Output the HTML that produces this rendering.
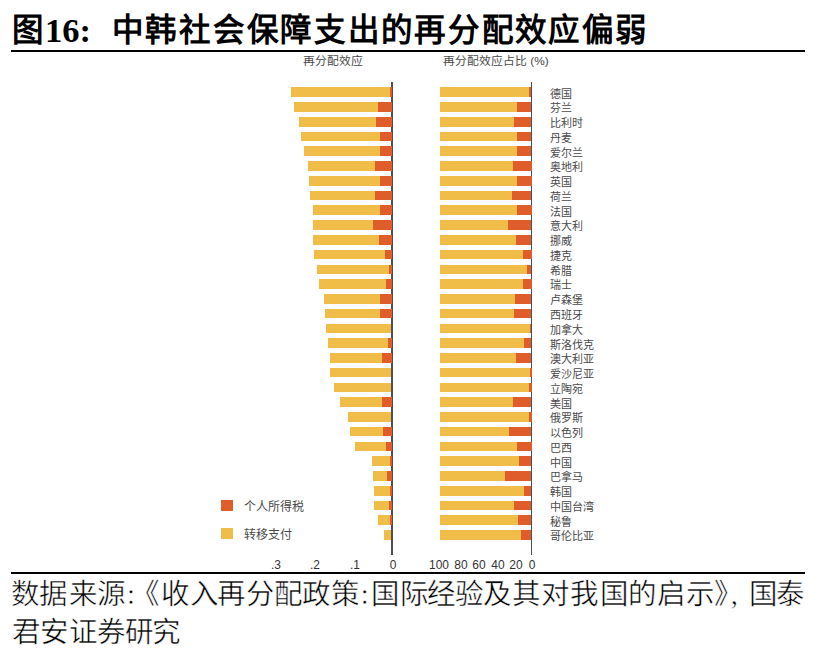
<!DOCTYPE html>
<html lang="zh-CN"><head><meta charset="utf-8">
<style>
html,body{margin:0;padding:0;background:#fff;}
body{width:827px;height:655px;position:relative;overflow:hidden;}
.tt{position:absolute;text-align:center;font-family:"Liberation Serif",serif;font-weight:bold;font-size:31.5px;color:#000;line-height:1;white-space:nowrap;}
.td{position:absolute;font-family:"Liberation Serif",serif;font-weight:bold;font-size:34.5px;color:#000;line-height:1;white-space:nowrap;}
.ss{position:absolute;text-align:center;font-family:"Liberation Serif",serif;font-size:28.5px;color:#000;line-height:1;white-space:nowrap;-webkit-text-stroke:0.5px #fff;}
.hr{position:absolute;left:11px;width:794px;height:2px;background:#000;}
.b{position:absolute;height:9.6px;}
.ax{position:absolute;width:1.4px;background:#505050;}
.c{position:absolute;left:550px;font-family:"Liberation Sans",sans-serif;font-size:11px;line-height:1;color:#4a4a4a;white-space:nowrap;}
.h{position:absolute;font-family:"Liberation Sans",sans-serif;font-size:11.8px;line-height:1;color:#4a4a4a;white-space:nowrap;}
.k{position:absolute;font-family:"Liberation Sans",sans-serif;font-size:13px;line-height:1;color:#333;white-space:nowrap;transform:translateX(-50%) scaleX(0.92);}
</style></head><body>
<span class="tt" style="left:7.5px;top:15px;width:40px">图</span><span class="tt" style="left:108.3px;top:15px;width:40px">中</span><span class="tt" style="left:141.4px;top:15px;width:40px">韩</span><span class="tt" style="left:174.5px;top:15px;width:40px">社</span><span class="tt" style="left:208.5px;top:15px;width:40px">会</span><span class="tt" style="left:242.9px;top:15px;width:40px">保</span><span class="tt" style="left:276.1px;top:15px;width:40px">障</span><span class="tt" style="left:310.2px;top:15px;width:40px">支</span><span class="tt" style="left:343.9px;top:15px;width:40px">出</span><span class="tt" style="left:376.8px;top:15px;width:40px">的</span><span class="tt" style="left:410.4px;top:15px;width:40px">再</span><span class="tt" style="left:444.3px;top:15px;width:40px">分</span><span class="tt" style="left:478.0px;top:15px;width:40px">配</span><span class="tt" style="left:511.4px;top:15px;width:40px">效</span><span class="tt" style="left:543.6px;top:15px;width:40px">应</span><span class="tt" style="left:577.9px;top:15px;width:40px">偏</span><span class="tt" style="left:611.3px;top:15px;width:40px">弱</span><span class="td" style="left:45px;top:12.5px">16:</span>
<div class="hr" style="top:49.6px"></div>
<div class="h" style="left:303px;top:56px">再分配效应</div>
<div class="h" style="left:443px;top:56px">再分配效应占比 (%)</div>
<div class="ax" style="left:391.3px;top:82px;height:473px"></div>
<div class="ax" style="left:530.8px;top:82px;height:473px"></div>
<div class="b" style="left:291.4px;top:87.40px;width:98.6px;background:#F0BD48"></div><div class="b" style="left:390.0px;top:87.40px;width:2.0px;background:#DF5D2A"></div><div class="b" style="left:440px;top:87.40px;width:88.9px;background:#F0BD48"></div><div class="b" style="left:528.9px;top:87.40px;width:2.6px;background:#DF5D2A"></div><div class="c" style="top:88.60px">德国</div><div class="b" style="left:294.3px;top:102.16px;width:83.7px;background:#F0BD48"></div><div class="b" style="left:378.0px;top:102.16px;width:14.0px;background:#DF5D2A"></div><div class="b" style="left:440px;top:102.16px;width:77.4px;background:#F0BD48"></div><div class="b" style="left:517.4px;top:102.16px;width:14.1px;background:#DF5D2A"></div><div class="c" style="top:103.36px">芬兰</div><div class="b" style="left:299.2px;top:116.92px;width:77.0px;background:#F0BD48"></div><div class="b" style="left:376.2px;top:116.92px;width:15.8px;background:#DF5D2A"></div><div class="b" style="left:440px;top:116.92px;width:73.9px;background:#F0BD48"></div><div class="b" style="left:513.9px;top:116.92px;width:17.6px;background:#DF5D2A"></div><div class="c" style="top:118.12px">比利时</div><div class="b" style="left:301.0px;top:131.68px;width:78.9px;background:#F0BD48"></div><div class="b" style="left:379.9px;top:131.68px;width:12.1px;background:#DF5D2A"></div><div class="b" style="left:440px;top:131.68px;width:77.4px;background:#F0BD48"></div><div class="b" style="left:517.4px;top:131.68px;width:14.1px;background:#DF5D2A"></div><div class="c" style="top:132.88px">丹麦</div><div class="b" style="left:303.5px;top:146.44px;width:76.4px;background:#F0BD48"></div><div class="b" style="left:379.9px;top:146.44px;width:12.1px;background:#DF5D2A"></div><div class="b" style="left:440px;top:146.44px;width:77.4px;background:#F0BD48"></div><div class="b" style="left:517.4px;top:146.44px;width:14.1px;background:#DF5D2A"></div><div class="c" style="top:147.64px">爱尔兰</div><div class="b" style="left:307.5px;top:161.20px;width:67.8px;background:#F0BD48"></div><div class="b" style="left:375.3px;top:161.20px;width:16.7px;background:#DF5D2A"></div><div class="b" style="left:440px;top:161.20px;width:73.0px;background:#F0BD48"></div><div class="b" style="left:513.0px;top:161.20px;width:18.5px;background:#DF5D2A"></div><div class="c" style="top:162.40px">奥地利</div><div class="b" style="left:309.0px;top:175.96px;width:71.0px;background:#F0BD48"></div><div class="b" style="left:380.0px;top:175.96px;width:12.0px;background:#DF5D2A"></div><div class="b" style="left:440px;top:175.96px;width:76.5px;background:#F0BD48"></div><div class="b" style="left:516.5px;top:175.96px;width:15.0px;background:#DF5D2A"></div><div class="c" style="top:177.16px">英国</div><div class="b" style="left:310.2px;top:190.72px;width:64.8px;background:#F0BD48"></div><div class="b" style="left:375.0px;top:190.72px;width:17.0px;background:#DF5D2A"></div><div class="b" style="left:440px;top:190.72px;width:71.9px;background:#F0BD48"></div><div class="b" style="left:511.9px;top:190.72px;width:19.6px;background:#DF5D2A"></div><div class="c" style="top:191.92px">荷兰</div><div class="b" style="left:313.0px;top:205.48px;width:67.4px;background:#F0BD48"></div><div class="b" style="left:380.4px;top:205.48px;width:11.6px;background:#DF5D2A"></div><div class="b" style="left:440px;top:205.48px;width:77.0px;background:#F0BD48"></div><div class="b" style="left:517.0px;top:205.48px;width:14.5px;background:#DF5D2A"></div><div class="c" style="top:206.68px">法国</div><div class="b" style="left:313.0px;top:220.24px;width:60.0px;background:#F0BD48"></div><div class="b" style="left:373.0px;top:220.24px;width:19.0px;background:#DF5D2A"></div><div class="b" style="left:440px;top:220.24px;width:68.4px;background:#F0BD48"></div><div class="b" style="left:508.4px;top:220.24px;width:23.1px;background:#DF5D2A"></div><div class="c" style="top:221.44px">意大利</div><div class="b" style="left:313.0px;top:235.00px;width:65.9px;background:#F0BD48"></div><div class="b" style="left:378.9px;top:235.00px;width:13.1px;background:#DF5D2A"></div><div class="b" style="left:440px;top:235.00px;width:76.1px;background:#F0BD48"></div><div class="b" style="left:516.1px;top:235.00px;width:15.4px;background:#DF5D2A"></div><div class="c" style="top:236.20px">挪威</div><div class="b" style="left:314.3px;top:249.76px;width:71.0px;background:#F0BD48"></div><div class="b" style="left:385.3px;top:249.76px;width:6.7px;background:#DF5D2A"></div><div class="b" style="left:440px;top:249.76px;width:82.5px;background:#F0BD48"></div><div class="b" style="left:522.5px;top:249.76px;width:9.0px;background:#DF5D2A"></div><div class="c" style="top:250.96px">捷克</div><div class="b" style="left:316.6px;top:264.52px;width:72.8px;background:#F0BD48"></div><div class="b" style="left:389.4px;top:264.52px;width:2.6px;background:#DF5D2A"></div><div class="b" style="left:440px;top:264.52px;width:87.1px;background:#F0BD48"></div><div class="b" style="left:527.1px;top:264.52px;width:4.4px;background:#DF5D2A"></div><div class="c" style="top:265.72px">希腊</div><div class="b" style="left:319.0px;top:279.28px;width:67.3px;background:#F0BD48"></div><div class="b" style="left:386.3px;top:279.28px;width:5.7px;background:#DF5D2A"></div><div class="b" style="left:440px;top:279.28px;width:82.5px;background:#F0BD48"></div><div class="b" style="left:522.5px;top:279.28px;width:9.0px;background:#DF5D2A"></div><div class="c" style="top:280.48px">瑞士</div><div class="b" style="left:324.0px;top:294.04px;width:56.2px;background:#F0BD48"></div><div class="b" style="left:380.2px;top:294.04px;width:11.8px;background:#DF5D2A"></div><div class="b" style="left:440px;top:294.04px;width:75.2px;background:#F0BD48"></div><div class="b" style="left:515.2px;top:294.04px;width:16.3px;background:#DF5D2A"></div><div class="c" style="top:295.24px">卢森堡</div><div class="b" style="left:325.3px;top:308.80px;width:54.6px;background:#F0BD48"></div><div class="b" style="left:379.9px;top:308.80px;width:12.1px;background:#DF5D2A"></div><div class="b" style="left:440px;top:308.80px;width:74.3px;background:#F0BD48"></div><div class="b" style="left:514.3px;top:308.80px;width:17.2px;background:#DF5D2A"></div><div class="c" style="top:310.00px">西班牙</div><div class="b" style="left:326.2px;top:323.56px;width:64.8px;background:#F0BD48"></div><div class="b" style="left:440px;top:323.56px;width:89.9px;background:#F0BD48"></div><div class="b" style="left:529.9px;top:323.56px;width:1.6px;background:#DF5D2A"></div><div class="c" style="top:324.76px">加拿大</div><div class="b" style="left:328.2px;top:338.32px;width:59.9px;background:#F0BD48"></div><div class="b" style="left:388.1px;top:338.32px;width:3.9px;background:#DF5D2A"></div><div class="b" style="left:440px;top:338.32px;width:84.4px;background:#F0BD48"></div><div class="b" style="left:524.4px;top:338.32px;width:7.1px;background:#DF5D2A"></div><div class="c" style="top:339.52px">斯洛伐克</div><div class="b" style="left:329.8px;top:353.08px;width:51.9px;background:#F0BD48"></div><div class="b" style="left:381.7px;top:353.08px;width:10.3px;background:#DF5D2A"></div><div class="b" style="left:440px;top:353.08px;width:75.7px;background:#F0BD48"></div><div class="b" style="left:515.7px;top:353.08px;width:15.8px;background:#DF5D2A"></div><div class="c" style="top:354.28px">澳大利亚</div><div class="b" style="left:329.8px;top:367.84px;width:61.2px;background:#F0BD48"></div><div class="b" style="left:440px;top:367.84px;width:90.0px;background:#F0BD48"></div><div class="b" style="left:530.0px;top:367.84px;width:1.5px;background:#DF5D2A"></div><div class="c" style="top:369.04px">爱沙尼亚</div><div class="b" style="left:334.0px;top:382.60px;width:57.0px;background:#F0BD48"></div><div class="b" style="left:440px;top:382.60px;width:89.0px;background:#F0BD48"></div><div class="b" style="left:529.0px;top:382.60px;width:2.5px;background:#DF5D2A"></div><div class="c" style="top:383.80px">立陶宛</div><div class="b" style="left:339.5px;top:397.36px;width:42.2px;background:#F0BD48"></div><div class="b" style="left:381.7px;top:397.36px;width:10.3px;background:#DF5D2A"></div><div class="b" style="left:440px;top:397.36px;width:73.4px;background:#F0BD48"></div><div class="b" style="left:513.4px;top:397.36px;width:18.1px;background:#DF5D2A"></div><div class="c" style="top:398.56px">美国</div><div class="b" style="left:348.2px;top:412.12px;width:42.8px;background:#F0BD48"></div><div class="b" style="left:440px;top:412.12px;width:89.0px;background:#F0BD48"></div><div class="b" style="left:529.0px;top:412.12px;width:2.5px;background:#DF5D2A"></div><div class="c" style="top:413.32px">俄罗斯</div><div class="b" style="left:350.0px;top:426.88px;width:32.5px;background:#F0BD48"></div><div class="b" style="left:382.5px;top:426.88px;width:9.5px;background:#DF5D2A"></div><div class="b" style="left:440px;top:426.88px;width:69.1px;background:#F0BD48"></div><div class="b" style="left:509.1px;top:426.88px;width:22.4px;background:#DF5D2A"></div><div class="c" style="top:428.08px">以色列</div><div class="b" style="left:354.7px;top:441.64px;width:31.5px;background:#F0BD48"></div><div class="b" style="left:386.2px;top:441.64px;width:5.8px;background:#DF5D2A"></div><div class="b" style="left:440px;top:441.64px;width:77.0px;background:#F0BD48"></div><div class="b" style="left:517.0px;top:441.64px;width:14.5px;background:#DF5D2A"></div><div class="c" style="top:442.84px">巴西</div><div class="b" style="left:371.5px;top:456.40px;width:18.0px;background:#F0BD48"></div><div class="b" style="left:389.5px;top:456.40px;width:2.5px;background:#DF5D2A"></div><div class="b" style="left:440px;top:456.40px;width:78.9px;background:#F0BD48"></div><div class="b" style="left:518.9px;top:456.40px;width:12.6px;background:#DF5D2A"></div><div class="c" style="top:457.60px">中国</div><div class="b" style="left:373.0px;top:471.16px;width:14.3px;background:#F0BD48"></div><div class="b" style="left:387.3px;top:471.16px;width:4.7px;background:#DF5D2A"></div><div class="b" style="left:440px;top:471.16px;width:65.1px;background:#F0BD48"></div><div class="b" style="left:505.1px;top:471.16px;width:26.4px;background:#DF5D2A"></div><div class="c" style="top:472.36px">巴拿马</div><div class="b" style="left:373.9px;top:485.92px;width:16.5px;background:#F0BD48"></div><div class="b" style="left:390.4px;top:485.92px;width:1.6px;background:#DF5D2A"></div><div class="b" style="left:440px;top:485.92px;width:83.8px;background:#F0BD48"></div><div class="b" style="left:523.8px;top:485.92px;width:7.7px;background:#DF5D2A"></div><div class="c" style="top:487.12px">韩国</div><div class="b" style="left:373.9px;top:500.68px;width:15.2px;background:#F0BD48"></div><div class="b" style="left:389.1px;top:500.68px;width:2.9px;background:#DF5D2A"></div><div class="b" style="left:440px;top:500.68px;width:74.3px;background:#F0BD48"></div><div class="b" style="left:514.3px;top:500.68px;width:17.2px;background:#DF5D2A"></div><div class="c" style="top:501.88px">中国台湾</div><div class="b" style="left:378.1px;top:515.44px;width:12.3px;background:#F0BD48"></div><div class="b" style="left:390.4px;top:515.44px;width:1.6px;background:#DF5D2A"></div><div class="b" style="left:440px;top:515.44px;width:78.3px;background:#F0BD48"></div><div class="b" style="left:518.3px;top:515.44px;width:13.2px;background:#DF5D2A"></div><div class="c" style="top:516.64px">秘鲁</div><div class="b" style="left:384.3px;top:530.20px;width:6.7px;background:#F0BD48"></div><div class="b" style="left:440px;top:530.20px;width:81.2px;background:#F0BD48"></div><div class="b" style="left:521.2px;top:530.20px;width:10.3px;background:#DF5D2A"></div><div class="c" style="top:531.40px">哥伦比亚</div>
<div class="b" style="left:221px;top:500px;width:11.5px;height:10.5px;background:#DF5D2A"></div>
<div class="h" style="left:244px;top:500.5px;font-size:12px">个人所得税</div>
<div class="b" style="left:221px;top:528px;width:11.5px;height:10.5px;background:#F0BD48"></div>
<div class="h" style="left:244px;top:528.5px;font-size:12px">转移支付</div>
<div class="k" style="left:275.5px;top:558px">.3</div><div class="k" style="left:315px;top:558px">.2</div><div class="k" style="left:354.5px;top:558px">.1</div><div class="k" style="left:392.5px;top:558px">0</div><div class="k" style="left:439px;top:558px">100</div><div class="k" style="left:461px;top:558px">80</div><div class="k" style="left:479.2px;top:558px">60</div><div class="k" style="left:497.7px;top:558px">40</div><div class="k" style="left:515.7px;top:558px">20</div><div class="k" style="left:531.6px;top:558px">0</div>
<div class="hr" style="top:572px"></div>
<span class="ss" style="left:5.2px;top:581px;width:40px">数</span><span class="ss" style="left:33.8px;top:581px;width:40px">据</span><span class="ss" style="left:63.2px;top:581px;width:40px">来</span><span class="ss" style="left:91.4px;top:581px;width:40px">源</span><span class="ss" style="left:111.0px;top:581px;width:40px">:</span><span class="ss" style="left:125.0px;top:581px;width:40px">《</span><span class="ss" style="left:155.0px;top:581px;width:40px">收</span><span class="ss" style="left:184.4px;top:581px;width:40px">入</span><span class="ss" style="left:211.5px;top:581px;width:40px">再</span><span class="ss" style="left:240.5px;top:581px;width:40px">分</span><span class="ss" style="left:268.8px;top:581px;width:40px">配</span><span class="ss" style="left:296.8px;top:581px;width:40px">政</span><span class="ss" style="left:325.8px;top:581px;width:40px">策</span><span class="ss" style="left:344.8px;top:581px;width:40px">:</span><span class="ss" style="left:365.7px;top:581px;width:40px">国</span><span class="ss" style="left:394.7px;top:581px;width:40px">际</span><span class="ss" style="left:421.8px;top:581px;width:40px">经</span><span class="ss" style="left:449.9px;top:581px;width:40px">验</span><span class="ss" style="left:477.9px;top:581px;width:40px">及</span><span class="ss" style="left:506.9px;top:581px;width:40px">其</span><span class="ss" style="left:535.9px;top:581px;width:40px">对</span><span class="ss" style="left:564.9px;top:581px;width:40px">我</span><span class="ss" style="left:594.9px;top:581px;width:40px">国</span><span class="ss" style="left:622.9px;top:581px;width:40px">的</span><span class="ss" style="left:651.9px;top:581px;width:40px">启</span><span class="ss" style="left:680.9px;top:581px;width:40px">示</span><span class="ss" style="left:708.3px;top:581px;width:40px">》</span><span class="ss" style="left:714.4px;top:581px;width:40px">,</span><span class="ss" style="left:743.0px;top:581px;width:40px">国</span><span class="ss" style="left:770.1px;top:581px;width:40px">泰</span><span class="ss" style="left:6.6px;top:619px;width:40px">君</span><span class="ss" style="left:34.4px;top:619px;width:40px">安</span><span class="ss" style="left:63.4px;top:619px;width:40px">证</span><span class="ss" style="left:91.9px;top:619px;width:40px">券</span><span class="ss" style="left:119.7px;top:619px;width:40px">研</span><span class="ss" style="left:146.9px;top:619px;width:40px">究</span>
</body></html>
